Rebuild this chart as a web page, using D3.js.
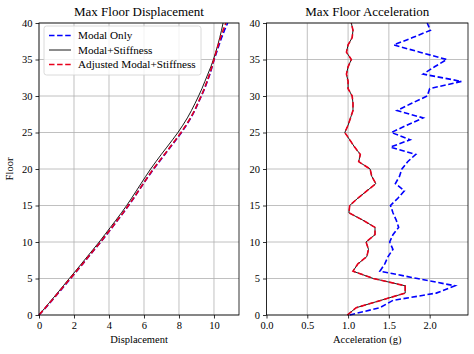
<!DOCTYPE html>
<html>
<head>
<meta charset="utf-8">
<script src="https://cdn.jsdelivr.net/npm/d3@7"></script>
<style>
  body { margin: 0; background: #fff; }
  text { font-family: "Liberation Serif", "DejaVu Serif", serif; fill: #000; }
</style>
</head>
<body>
<script>
const floors = d3.range(0, 41);

// Max floor displacement per floor
const dispModal = [0, 0.38, 0.74, 1.10, 1.45, 1.80, 2.15, 2.50, 2.84, 3.18, 3.53, 3.86, 4.18, 4.50, 4.82, 5.12,
    5.41, 5.69, 5.97, 6.25, 6.55, 6.87, 7.19, 7.51, 7.83, 8.14, 8.42, 8.68, 8.90, 9.09, 9.28, 9.46,
    9.62, 9.77, 9.89, 10.01, 10.15, 10.29, 10.44, 10.60, 10.78];
const dispStiff = [0, 0.35, 0.70, 1.05, 1.39, 1.73, 2.08, 2.42, 2.76, 3.10, 3.44, 3.76, 4.08, 4.40, 4.71, 5.01,
    5.29, 5.56, 5.83, 6.10, 6.38, 6.68, 6.99, 7.31, 7.63, 7.94, 8.22, 8.48, 8.71, 8.92, 9.12, 9.31,
    9.48, 9.65, 9.82, 9.97, 10.10, 10.22, 10.33, 10.43, 10.52];
const dispAdjusted = [0, 0.37, 0.73, 1.09, 1.44, 1.79, 2.14, 2.49, 2.83, 3.17, 3.52, 3.85, 4.17, 4.49, 4.81, 5.11,
    5.40, 5.68, 5.96, 6.24, 6.53, 6.85, 7.17, 7.49, 7.81, 8.12, 8.40, 8.66, 8.89, 9.08, 9.27, 9.45,
    9.60, 9.75, 9.88, 10.00, 10.12, 10.25, 10.38, 10.52, 10.68];

// Max floor acceleration per floor (g)
const accModal = [1.02, 1.39, 1.55, 2.08, 2.31, 1.85, 1.39, 1.45, 1.49, 1.55, 1.51, 1.55, 1.62, 1.59, 1.55, 1.52,
    1.61, 1.69, 1.58, 1.63, 1.66, 1.73, 1.83, 1.52, 1.76, 1.53, 1.72, 1.92, 1.60, 1.78, 1.97, 2.00,
    2.39, 1.92, 2.06, 2.21, 1.88, 1.56, 1.79, 2.01, 1.97];
const accStiff = [0.99, 1.10, 1.40, 1.70, 1.70, 1.31, 1.06, 1.12, 1.23, 1.25, 1.22, 1.33, 1.33, 1.18, 1.01, 1.02,
    1.12, 1.23, 1.34, 1.29, 1.27, 1.13, 1.15, 1.08, 1.02, 0.96, 1.00, 1.03, 1.06, 1.06, 1.05, 1.00,
    1.00, 0.98, 1.00, 1.04, 0.98, 1.00, 1.05, 1.06, 1.04];
const accAdjusted = accStiff.slice();

const yTicks = [0, 5, 10, 15, 20, 25, 30, 35, 40];
const dispTicks = [0, 2, 4, 6, 8, 10];
const accTicks = [0, 0.5, 1.0, 1.5, 2.0];

const seriesNames = ["Modal Only", "Modal+Stiffness", "Adjusted Modal+Stiffness"];

const w = 474, h = 354;
const plotTop = 23, plotBottom = 315;

const svg = d3.select("body").append("svg")
    .attr("width", w)
    .attr("height", h);

const y = d3.scaleLinear().domain([0, 40]).range([plotBottom, plotTop]);

const styles = [
    { color: "#0000ff", width: 1.6, dash: "5.5,2.6" },
    { color: "#000000", width: 0.9, dash: null },
    { color: "#e8001c", width: 1.6, dash: "5.5,2.6" }
];

function panel(left, right, xmax, xticks, fmt, title, xlabel, series) {
    const x = d3.scaleLinear().domain([0, xmax]).range([left, right]);
    const g = svg.append("g");

    // grid
    g.selectAll(".gx").data(xticks).enter().append("line")
        .attr("x1", d => x(d)).attr("x2", d => x(d))
        .attr("y1", plotTop).attr("y2", plotBottom)
        .attr("stroke", "#b0b0b0").attr("stroke-width", 0.8);
    g.selectAll(".gy").data(yTicks).enter().append("line")
        .attr("x1", left).attr("x2", right)
        .attr("y1", d => y(d)).attr("y2", d => y(d))
        .attr("stroke", "#b0b0b0").attr("stroke-width", 0.8);

    const line = d3.line()
        .x(d => x(d[0]))
        .y(d => y(d[1]));

    series.forEach((s, i) => {
        g.append("path")
            .datum(s.map((v, k) => [v, floors[k]]))
            .attr("d", line)
            .attr("fill", "none")
            .attr("stroke", styles[i].color)
            .attr("stroke-width", styles[i].width)
            .attr("stroke-dasharray", styles[i].dash);
    });

    const xAxis = g.append("g")
        .attr("transform", `translate(0,${plotBottom})`)
        .call(d3.axisBottom(x).tickValues(xticks).tickFormat(fmt).tickSize(3.5).tickPadding(3));
    const yAxis = g.append("g")
        .attr("transform", `translate(${left},0)`)
        .call(d3.axisLeft(y).tickValues(yTicks).tickSize(3.5).tickPadding(3));
    [xAxis, yAxis].forEach(a => {
        a.select(".domain").remove();
        a.selectAll("text").attr("font-size", 10.5).attr("font-family", "Liberation Serif");
        a.selectAll("line").attr("stroke-width", 0.8);
    });

    g.append("rect")
        .attr("x", left).attr("y", plotTop)
        .attr("width", right - left).attr("height", plotBottom - plotTop)
        .attr("fill", "none").attr("stroke", "#000").attr("stroke-width", 0.8);

    g.append("text")
        .attr("x", (left + right) / 2).attr("y", 16)
        .attr("text-anchor", "middle").attr("font-size", 13)
        .text(title);
    g.append("text")
        .attr("x", (left + right) / 2).attr("y", 343)
        .attr("text-anchor", "middle").attr("font-size", 10.5)
        .text(xlabel);
    return x;
}

panel(39, 239, 11.43, dispTicks, d3.format("d"), "Max Floor Displacement", "Displacement",
    [dispModal, dispStiff, dispAdjusted]);
panel(266.5, 468, 2.47, accTicks, d3.format(".1f"), "Max Floor Acceleration", "Acceleration (g)",
    [accModal, accStiff, accAdjusted]);

svg.append("text")
    .attr("transform", "translate(13,169) rotate(-90)")
    .attr("text-anchor", "middle").attr("font-size", 10.5)
    .text("Floor");

// legend
const legend = svg.append("g").attr("transform", "translate(44,26)");
legend.append("rect")
    .attr("width", 157).attr("height", 49).attr("rx", 2.5)
    .attr("fill", "rgba(255,255,255,0.8)").attr("stroke", "#d0d0d0").attr("stroke-width", 0.8);
seriesNames.forEach((name, i) => {
    const ly = 9.5 + i * 14.5;
    legend.append("line")
        .attr("x1", 5).attr("x2", 27).attr("y1", ly).attr("y2", ly)
        .attr("stroke", styles[i].color)
        .attr("stroke-width", styles[i].width)
        .attr("stroke-dasharray", styles[i].dash);
    legend.append("text")
        .attr("x", 34).attr("y", ly + 3.8)
        .attr("font-size", 11.2)
        .text(name);
});
</script>
</body>
</html>
